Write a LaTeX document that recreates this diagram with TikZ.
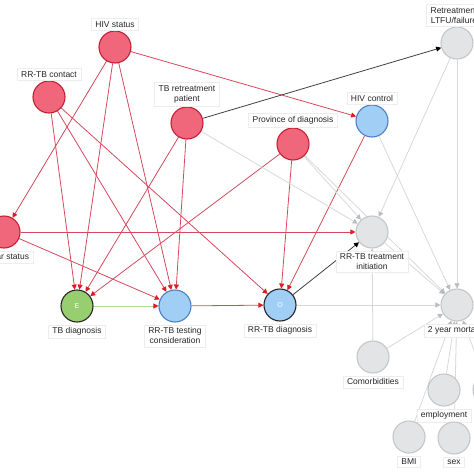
\documentclass[tikz,border=0pt]{standalone}
\usepackage{fontspec}
\setmainfont{Liberation Sans}
\usetikzlibrary{arrows.meta,backgrounds}

\definecolor{redfill}{RGB}{240,103,124}
\definecolor{redline}{RGB}{196,32,52}
\definecolor{bluefill}{RGB}{160,206,244}
\definecolor{blueline}{RGB}{74,128,196}
\definecolor{grayfill}{RGB}{226,228,229}
\definecolor{grayline}{RGB}{196,198,199}
\definecolor{greenfill}{RGB}{150,206,112}
\definecolor{rededge}{RGB}{214,72,92}
\definecolor{redtip}{RGB}{226,24,36}
\definecolor{grayedge}{RGB}{214,216,217}
\definecolor{graytip}{RGB}{186,188,189}
\definecolor{greenedge}{RGB}{176,224,140}

\tikzset{
	var/.style={circle,minimum size=32pt,inner sep=0pt,line width=1.1pt,font=\fontsize{7}{8}\selectfont\color{white}},
	confnode/.style={var,fill=redfill,draw=redline},
	ancnode/.style={var,fill=bluefill,draw=blueline},
	othernode/.style={var,fill=grayfill,draw=grayline},
	expnode/.style={var,fill=greenfill,draw=black!85},
	outnode/.style={var,fill=bluefill,draw=black!85},
	lab/.style={fill=white,draw=black!7,inner xsep=4pt,inner ysep=3pt,align=center,font=\fontsize{8.5}{10}\selectfont,text=black!85},
	labb/.style={lab,yshift=-2pt},
	redarr/.style={draw=rededge,line width=0.8pt,-{Triangle[length=5pt,width=5pt,color=redtip]}},
	grayarr/.style={draw=grayedge,line width=0.8pt,-{Triangle[length=5pt,width=5pt,color=graytip]}},
	blackarr/.style={draw=black!75,line width=0.8pt,-{Triangle[length=5pt,width=5pt,color=black]}},
	greenarr/.style={draw=greenedge,line width=0.8pt,-{Triangle[length=5pt,width=5pt,color=redtip]}}
}

\begin{document}
\begin{tikzpicture}[x=1pt,y=-1pt]
	\useasboundingbox (0,0) rectangle (474,474);
	% variables
	\node[confnode,label={[lab]above:{HIV status}}] (hiv) at (115,47) {};
	\node[confnode,label={[lab]above:{RR-TB contact}}] (contact) at (49,97) {};
	\node[confnode,label={[lab]above:{TB retreatment\\patient}}] (retreat) at (187,123) {};
	\node[confnode,label={[labb]below:{Smear status}}] (smear) at (4,232) {};
	\node[confnode,label={[lab]above:{Province of diagnosis}}] (province) at (293,144) {};
	\node[ancnode,label={[lab]above:{HIV control}}] (hivctl) at (372,121) {};
	\node[othernode,label={[lab,xshift=-3pt]above:{Retreatment\\LTFU/failure}}] (ltfu) at (457,43) {};
	\node[othernode,label={[labb]below:{RR-TB treatment\\initiation}}] (init) at (372,232) {};
	\node[othernode,label={[labb]below:{2 year mortality}}] (mort) at (457,305) {};
	\node[expnode,label={[labb]below:{TB diagnosis}}] (tbdx) at (77,306) {E};
	\node[ancnode,label={[labb]below:{RR-TB testing\\consideration}}] (testing) at (175,306) {};
	\node[outnode,label={[labb]below:{RR-TB diagnosis}}] (rrdx) at (280,305) {O};
	\node[othernode,label={[labb]below:{Comorbidities}}] (comorb) at (373,357) {};
	\node[othernode,label={[labb]below:{employment}}] (employ) at (444,390) {};
	\node[othernode] (offside) at (489,390) {};
	\node[othernode,label={[labb]below:{BMI}}] (bmi) at (409,437) {};
	\node[othernode,label={[labb]below:{sex}}] (sex) at (454,438) {};

	% arrows
	\begin{scope}[on background layer]
		\draw[redarr] (hiv) -- (hivctl);
		\draw[redarr] (hiv) -- (smear);
		\draw[redarr] (hiv) -- (tbdx);
		\draw[redarr] (hiv) -- (testing);
		\draw[redarr] (contact) -- (tbdx);
		\draw[redarr] (contact) -- (testing);
		\draw[redarr] (contact) -- (rrdx);
		\draw[redarr] (retreat) -- (tbdx);
		\draw[redarr] (retreat) -- (testing);
		\draw[redarr] (province) -- (tbdx);
		\draw[redarr] (province) -- (rrdx);
		\draw[redarr] (hivctl) -- (rrdx);
		\draw[redarr] (smear) -- (init);
		\draw[redarr] (smear) -- (testing);
		\draw[redarr] (testing) -- (rrdx);
		\draw[greenarr] (tbdx) -- (testing);
		\draw[blackarr] (retreat) -- (ltfu);
		\draw[blackarr] (rrdx) -- (init);
		\draw[grayarr] (retreat) -- (init);
		\draw[grayarr] (province) -- (init);
		\draw[grayarr] (province) -- (mort);
		\draw[grayarr] (ltfu) -- (init);
		\draw[grayarr] (ltfu) -- (mort);
		\draw[grayarr] (hivctl) -- (mort);
		\draw[grayarr] (init) -- (mort);
		\draw[grayarr] (rrdx) -- (mort);
		\draw[grayarr] (comorb) -- (init);
		\draw[grayarr] (comorb) -- (mort);
		\draw[grayarr] (employ) -- (mort);
		\draw[grayarr] (offside) -- (mort);
		\draw[grayarr] (bmi) -- (mort);
		\draw[grayarr] (sex) -- (mort);
	\end{scope}
\end{tikzpicture}
\end{document}
